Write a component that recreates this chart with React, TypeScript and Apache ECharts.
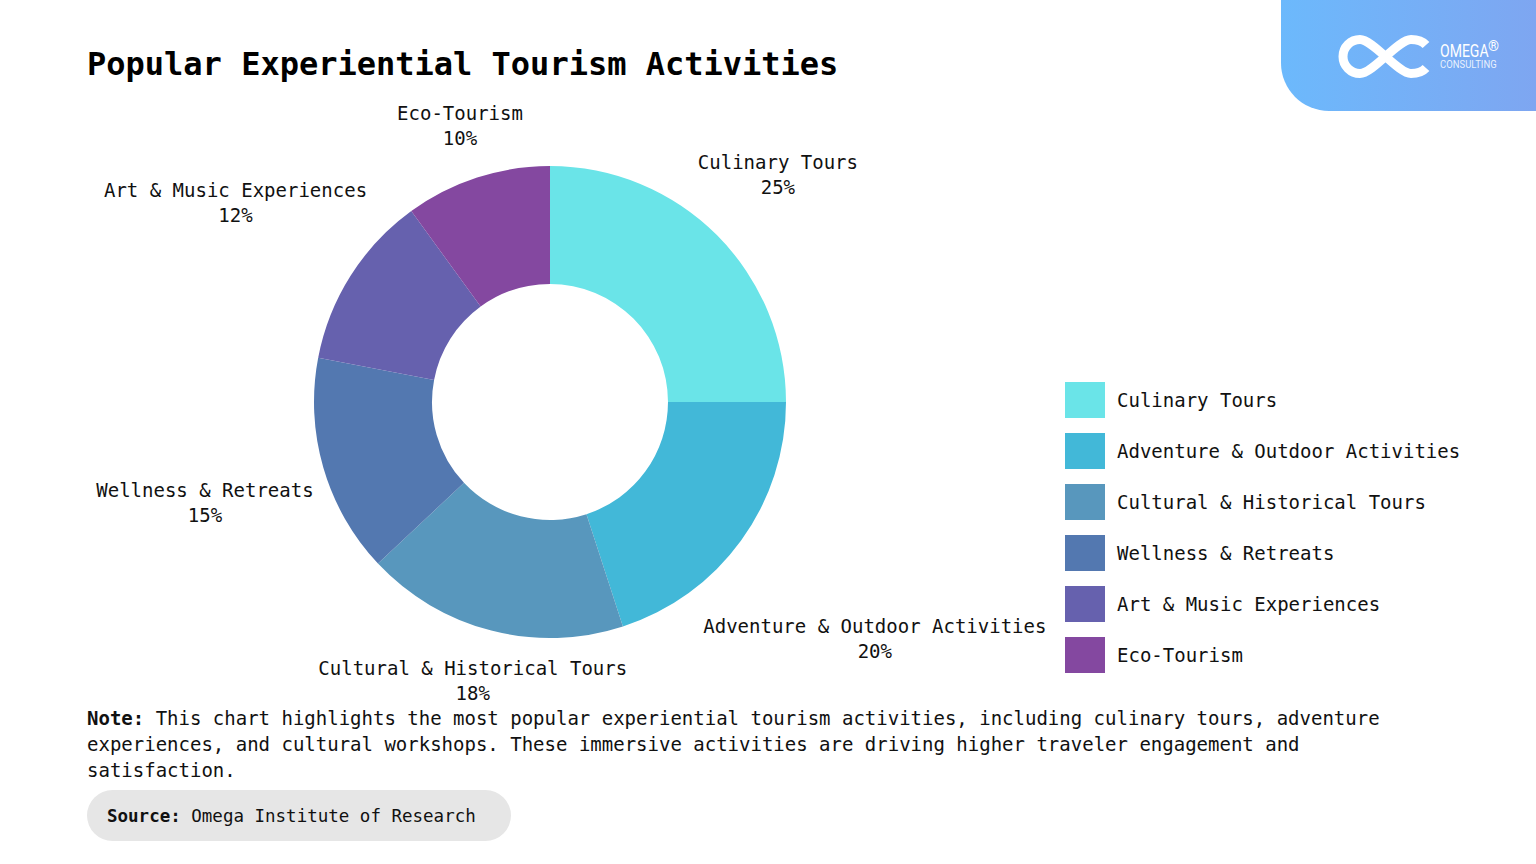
import React, { useEffect, useRef } from "react";
import * as echarts from "echarts";

const categories = [
  "Culinary Tours",
  "Adventure & Outdoor Activities",
  "Cultural & Historical Tours",
  "Wellness & Retreats",
  "Art & Music Experiences",
  "Eco-Tourism",
];
const shares = [25, 20, 18, 15, 12, 10];
const colors = ["#6AE4E8", "#42B8D8", "#5897BD", "#5378B0", "#6661AE", "#8448A0"];

const titleText = "Popular Experiential Tourism Activities";
const noteLines = [
  "{b|Note:} This chart highlights the most popular experiential tourism activities, including culinary tours, adventure",
  "experiences, and cultural workshops. These immersive activities are driving higher traveler engagement and",
  "satisfaction.",
];
const sourceLabel = "Source:";
const sourceText = "Omega Institute of Research";

const MONO = "'DejaVu Sans Mono', 'Liberation Mono', monospace";
const SANS = "Roboto, 'Noto Sans', sans-serif";

const LOGO_D =
  "M 88 10 C 84 5.5 79 4.5 73 4.5 C 60 4.5 35 38.5 22 38.5 C 12.6 38.5 5 30.9 5 21.5 C 5 12.1 12.6 4.5 22 4.5 C 35 4.5 60 38.5 73 38.5 C 79 38.5 84 37.5 88 33";

let registered = false;

export default function App() {
  const ref = useRef<HTMLDivElement>(null);

  useEffect(() => {
    if (!ref.current) return;
    if (!registered) {
      echarts.graphic.registerShape("logo", echarts.graphic.extendPath(LOGO_D, {}) as any);
      registered = true;
    }
    const chart = echarts.init(ref.current, null, { renderer: "svg" });

    const cx = 550;
    const cy = 402;
    const outerR = 236;
    const innerR = 118;
    const total = shares.reduce((a, b) => a + b, 0);
    const midAngles: number[] = [];
    let acc = 0;
    shares.forEach((v) => {
      midAngles.push(((acc + v / 2) / total) * Math.PI * 2);
      acc += v;
    });

    const option: any = {
      animation: false,
      backgroundColor: "#ffffff",
      title: {
        text: titleText,
        left: 87,
        top: 48,
        padding: 0,
        textStyle: {
          fontFamily: MONO,
          fontSize: 32,
          fontWeight: "bold",
          color: "#000",
        },
      },
      color: colors,
      legend: {
        orient: "vertical",
        left: 1065,
        top: 382,
        padding: 0,
        itemWidth: 40,
        itemHeight: 36,
        itemGap: 15,
        icon: "rect",
        data: categories,
        textStyle: {
          fontFamily: MONO,
          fontSize: 19,
          color: "#111",
          padding: [0, 0, 0, 7],
        },
      },
      series: [
        {
          type: "pie",
          center: [cx, cy],
          radius: [innerR, outerR],
          startAngle: 90,
          clockwise: true,
          avoidLabelOverlap: false,
          data: categories.map((name, i) => ({
            name,
            value: shares[i],
            itemStyle: { color: colors[i] },
          })),
          label: {
            show: true,
            position: "outside",
            formatter: (p: any) => `${p.name}\n${p.value}%`,
            fontFamily: MONO,
            fontSize: 19,
            lineHeight: 25,
            color: "#111",
            align: "center",
          },
          labelLine: { show: false },
          labelLayout: (params: any) => {
            const a = midAngles[params.dataIndex];
            const s = Math.sin(a);
            const c = Math.cos(a);
            const w = params.labelRect.width;
            const h = params.labelRect.height;
            const R = outerR + 12 + (w / 2) * Math.abs(s) + (h / 2) * Math.abs(c);
            const x = cx + R * s;
            let y = cy - R * c;
            const maxBottom = 705;
            if (y + h / 2 > maxBottom) y = maxBottom - h / 2;
            return { x, y, align: "center", verticalAlign: "middle" };
          },
          emphasis: { disabled: true },
        },
      ],
      graphic: [
        {
          type: "rect",
          shape: { x: 1281, y: 0, width: 255, height: 111, r: [0, 0, 0, 48] },
          style: {
            fill: new echarts.graphic.LinearGradient(0, 0, 1, 0, [
              { offset: 0, color: "#6CB9FC" },
              { offset: 1, color: "#7EA6F1" },
            ]),
          },
          silent: true,
        },
        {
          type: "logo",
          x: 1338,
          y: 35,
          style: { fill: "none", stroke: "#ffffff", lineWidth: 9 },
          silent: true,
        },
        {
          type: "text",
          x: 1440,
          y: 51,
          scaleX: 0.78,
          style: {
            text: "OMEGA",
            fontFamily: SANS,
            fontSize: 18,
            fill: "#ffffff",
            verticalAlign: "middle",
          },
          silent: true,
        },
        {
          type: "text",
          x: 1488,
          y: 46,
          style: {
            text: "®",
            fontFamily: SANS,
            fontSize: 14,
            fill: "#ffffff",
            verticalAlign: "middle",
          },
          silent: true,
        },
        {
          type: "text",
          x: 1440,
          y: 64,
          scaleX: 0.95,
          style: {
            text: "CONSULTING",
            fontFamily: SANS,
            fontSize: 10,
            fill: "rgba(255,255,255,0.85)",
            verticalAlign: "middle",
          },
          silent: true,
        },
        {
          type: "text",
          x: 87,
          y: 705,
          style: {
            text: noteLines.join("\n"),
            fontFamily: MONO,
            fontSize: 19,
            lineHeight: 26,
            fill: "#111",
            rich: {
              b: { fontFamily: MONO, fontSize: 19, fontWeight: "bold", fill: "#111", lineHeight: 26 },
            },
          },
          silent: true,
        },
        {
          type: "rect",
          shape: { x: 87, y: 790, width: 424, height: 51, r: 25.5 },
          style: { fill: "#E6E6E6" },
          silent: true,
        },
        {
          type: "text",
          x: 107,
          y: 816,
          style: {
            text: `{b|${sourceLabel}} ${sourceText}`,
            fontFamily: MONO,
            fontSize: 17.5,
            fill: "#111",
            verticalAlign: "middle",
            rich: {
              b: { fontFamily: MONO, fontSize: 17.5, fontWeight: "bold", fill: "#111" },
            },
          },
          silent: true,
        },
      ],
    };

    chart.setOption(option);
    return () => chart.dispose();
  }, []);

  return (
    <div
      ref={ref}
      style={{ position: "absolute", left: 0, top: 0, width: 1536, height: 864 }}
    />
  );
}
